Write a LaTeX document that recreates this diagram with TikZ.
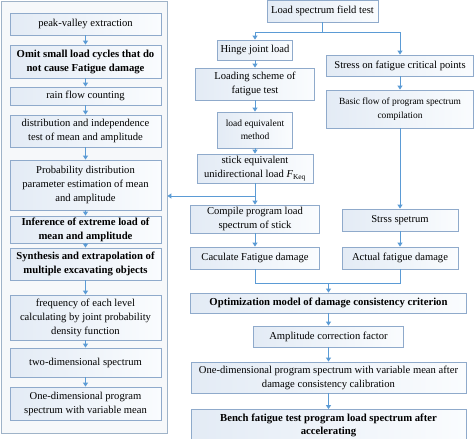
\documentclass[tikz,border=0pt]{standalone}
\usepackage{fontspec}
\setmainfont{Liberation Serif}
\usetikzlibrary{arrows.meta}
\definecolor{boxc}{HTML}{8FAACB}
\definecolor{arrc}{HTML}{5B9BD5}
\definecolor{fillL}{HTML}{E3EBF5}
\definecolor{fillR}{HTML}{FAFCFE}
\definecolor{panelc}{HTML}{9FB3C8}
\definecolor{panelf}{HTML}{F6F8FA}
\tikzset{
  box/.style={draw=boxc, line width=0.8pt, left color=fillL, right color=fillR,
    align=center, inner sep=1pt, text=black,
    font=\fontsize{10.6}{14}\selectfont},
  lbox/.style={box, minimum width=151pt},
  bbox/.style={box, font=\fontsize{10.7}{14}\selectfont\bfseries},
  panel/.style={draw=panelc, line width=0.8pt, fill=panelf},
  arr/.style={draw=arrc, line width=1pt, -{Triangle[length=4pt,width=5pt]}},
  ln/.style={draw=arrc, line width=1pt},
}
\begin{document}
\begin{tikzpicture}[x=1pt,y=-1pt]
\useasboundingbox (0,0) rectangle (474,439);
% left panel
\node[panel, minimum width=166pt, minimum height=432pt] (panel) at (84,217) {};
\node[lbox, minimum height=22pt] (a1) at (85.5,24) {peak-valley extraction};
\node[lbox, bbox, minimum width=151pt, minimum height=33pt] (a2) at (85.5,61.5) {Omit small load cycles that do\\not cause Fatigue damage};
\node[lbox, minimum height=18pt] (a3) at (85.5,96) {rain flow counting};
\node[lbox, minimum height=32pt] (a4) at (85.5,131) {distribution and independence\\test of mean and amplitude};
\node[lbox, minimum height=50pt] (a5) at (85.5,185) {Probability distribution\\parameter estimation of mean\\and amplitude};
\node[lbox, bbox, minimum width=151pt, minimum height=27pt] (a6) at (85.5,229.5) {Inference of extreme load of\\mean and amplitude};
\node[lbox, bbox, minimum width=151pt, minimum height=32pt] (a7) at (85.5,264) {Synthesis and extrapolation of\\multiple excavating objects};
\node[lbox, minimum height=45pt] (a8) at (85.5,317.5) {frequency of each level\\calculating by joint probability\\density function};
\node[lbox, minimum height=29pt] (a9) at (85.5,362.5) {two-dimensional spectrum};
\node[lbox, minimum height=33pt] (a10) at (85.5,403.5) {One-dimensional program\\spectrum with variable mean};
\foreach \i/\j in {a1/a2,a2/a3,a3/a4,a4/a5,a5/a6,a6/a7,a7/a8,a8/a9,a9/a10}
  \draw[arr] (\i.south) -- (\j.north);
% right part
\node[box, minimum width=111pt, minimum height=22pt] (ls) at (322.5,11) {Load spectrum field test};
\node[box, minimum width=75pt, minimum height=20pt] (hinge) at (255,50) {Hinge joint load};
\node[box, minimum width=119pt, minimum height=32pt] (scheme) at (255,84) {Loading scheme of\\fatigue test};
\node[box, minimum width=75pt, minimum height=36pt, font=\fontsize{9.5}{13}\selectfont] (equiv) at (255,130) {load equivalent\\method};
\node[box, minimum width=116pt, minimum height=29pt] (stick) at (255,168.5) {stick equivalent\\unidirectional load {\itshape F}\textsubscript{Keq}};
\node[box, minimum width=129pt, minimum height=28pt] (compile) at (255,219) {Compile program load\\spectrum of stick};
\node[box, minimum width=129pt, minimum height=22pt] (calc) at (255,258) {Caculate Fatigue damage};
\node[box, minimum width=147pt, minimum height=21pt] (stress) at (400,65.5) {Stress on fatigue critical points};
\node[box, minimum width=147pt, minimum height=38pt, font=\fontsize{9.4}{13.5}\selectfont] (basic) at (400,109) {Basic flow of program spectrum\\compilation};
\node[box, minimum width=116pt, minimum height=22pt] (strss) at (400,220) {Strss spetrum};
\node[box, minimum width=116pt, minimum height=22pt] (actual) at (400,258) {Actual fatigue damage};
\node[bbox, minimum width=276pt, minimum height=20pt] (opt) at (328.5,303) {Optimization model of damage consistency criterion};
\node[box, minimum width=150pt, minimum height=21pt] (amp) at (328.5,336.5) {Amplitude correction factor};
\node[box, minimum width=275pt, minimum height=31pt] (onedim) at (328.5,377.5) {One-dimensional program spectrum with variable mean after\\damage consistency calibration};
\node[bbox, minimum width=275pt, minimum height=32pt, font=\fontsize{10.7}{13.5}\selectfont\bfseries] (bench) at (328.5,425.5) {Bench fatigue test program load spectrum after\\accelerating};
% connectors
\draw[arr] (ls.south) -- ++(0,10) -| (hinge.north);
\draw[arr] (ls.south) -- ++(0,10) -| (stress.north);
\draw[arr] (hinge.south) -- (scheme.north);
\draw[arr] (scheme.south) -- (equiv.north);
\draw[arr] (equiv.south) -- (stick.north);
\draw[arr] (stick.south) -- (compile.north);
\coordinate (br) at (255,196);
\draw[arr] (br) -- (panel.east |- br);
\draw[arr] (compile.south) -- (calc.north);
\draw[arr] (stress.south) -- (basic.north);
\draw[arr] (basic.south) -- (strss.north);
\draw[arr] (strss.south) -- (actual.north);
\coordinate (m) at (328.5,283);
\draw[ln] (calc.south) |- (m);
\draw[ln] (actual.south) |- (m);
\draw[arr] (m) -- (opt.north);
\draw[arr] (opt.south) -- (amp.north);
\draw[arr] (amp.south) -- (onedim.north);
\draw[arr] (onedim.south) -- (bench.north);
\end{tikzpicture}
\end{document}
